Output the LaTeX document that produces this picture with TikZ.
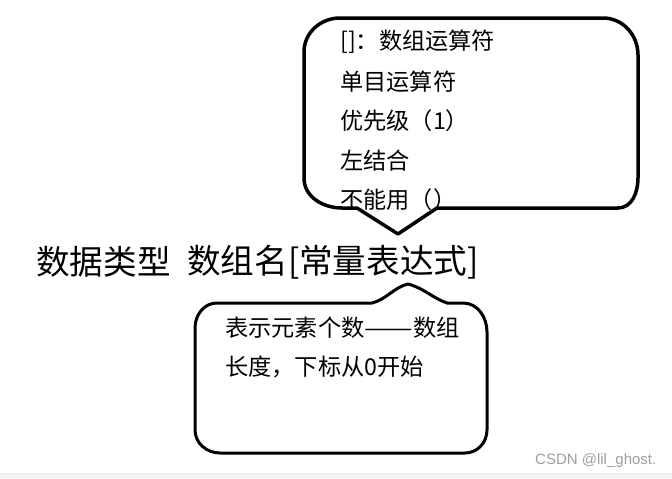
\documentclass[tikz,border=0pt]{standalone}
\usepackage{fontspec}
\setmainfont{Noto Sans CJK SC}
\newfontfamily\markfont{Liberation Sans}
\usetikzlibrary{positioning}

\tikzset{
  callout/.style={line width=3.5pt, line join=round},
  txt/.style={anchor=west, inner sep=0pt, font=\fontsize{23.2}{28}\selectfont},
  big/.style={anchor=west, inner sep=0pt, font=\fontsize{33.6}{40}\selectfont}
}

\begin{document}
\begin{tikzpicture}[x=1pt,y=-1pt]
  \useasboundingbox (0,0) rectangle (672,479);
  \fill[gray!8] (0,473) rectangle (672,479);
  \draw[gray!15] (0,473) -- (672,473);

  % upper callout
  \draw[callout] (398,234) -- (357,208) -- (342,208) to[out=180,in=-90] (304,178)
    -- (304,52) to[out=90,in=180] (340,18) -- (603,18) to[out=0,in=90] (638,55)
    -- (638,178) to[out=-90,in=0] (618,208) -- (437,208) -- cycle;
  \node[txt] (op1) at (340,42) {[]：数组运算符};
  \node[txt] (op2) at (340,82) {单目运算符};
  \node[txt] (op3) at (340,121) {优先级（1）};
  \node[txt] (op4) at (340,161) {左结合};
  \node[txt] (op5) at (340,200) {不能用（）};

  % declaration
  \node[big] (dtype) at (36,262) {数据类型};
  \node[big] (decl) at (187,262) {数组名[常量表达式]};

  % lower callout
  \draw[callout, line width=3pt] (408,284) to[out=-15,in=160] (447,303) -- (463,303)
    to[out=0,in=90] (487,332) -- (487,430) to[out=-90,in=0] (465,453)
    -- (220,453) to[out=180,in=-90] (195,430) -- (195,328) to[out=90,in=180] (217,303)
    -- (372,303) to[out=15,in=195] cycle;
  \node[txt] (len1) at (225,328) {表示元素个数\scalebox{1.25}[1]{——}数组};
  \node[txt] (len2) at (225,367) {长度，下标从0开始};

  \node[anchor=west, inner sep=0pt, text=gray!75, font=\markfont\fontsize{15}{18}\selectfont] (mark) at (535,461) {CSDN @lil\_ghost.};
\end{tikzpicture}
\end{document}
